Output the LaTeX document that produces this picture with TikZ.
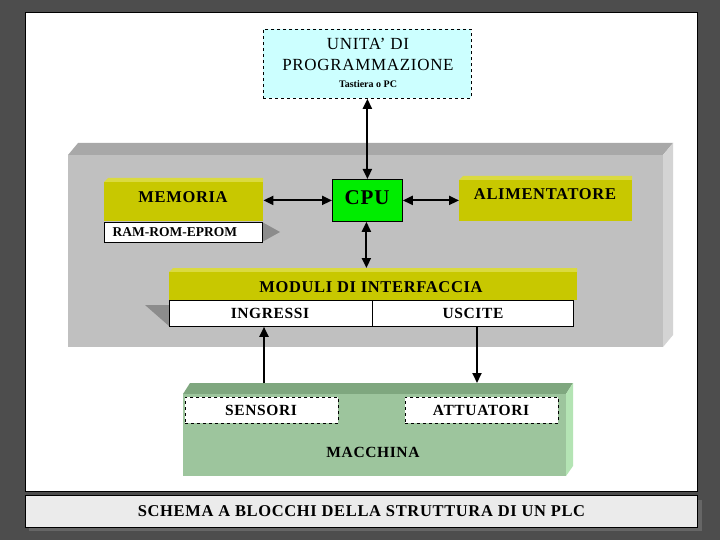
\documentclass[tikz,border=0pt]{standalone}
\usepackage{fontspec}
\setmainfont{Liberation Serif}
\newfontfamily\spaced[LetterSpace=4]{Liberation Serif}
\usetikzlibrary{arrows.meta}
\definecolor{bgd}{HTML}{4D4D4D}
\definecolor{plat}{HTML}{C0C0C0}
\definecolor{plattop}{HTML}{A8A8A8}
\definecolor{platside}{HTML}{D4D4D4}
\definecolor{olive}{HTML}{C8C800}
\definecolor{olivetop}{HTML}{DADA40}
\definecolor{mach}{HTML}{9DC59D}
\definecolor{machtop}{HTML}{7FA77F}
\definecolor{machside}{HTML}{B4E4B4}
\definecolor{cyanb}{HTML}{CCFFFF}
\begin{document}
\begin{tikzpicture}[x=1pt,y=-1pt,
  lbl/.style={font=\spaced\bfseries\fontsize{16.5}{17}\selectfont},
  lblm/.style={font=\spaced\bfseries\fontsize{15.5}{16}\selectfont},
  box/.style={draw=black,line width=0.8pt,inner sep=0pt,anchor=north west},
  arr/.style={-{Triangle[length=10pt,width=9pt]},line width=2pt},
  darr/.style={{Triangle[length=10pt,width=9pt]}-{Triangle[length=10pt,width=9pt]},line width=2pt}]
\useasboundingbox (0,0) rectangle (720,540);
\fill[bgd] (0,0) rectangle (720,540);
\fill[white,draw=black] (25,12) rectangle (697,491);
% caption
\fill[black!60] (29,500) rectangle (702,531);
\node[box,fill=black!8,minimum width=672pt,minimum height=32pt,line width=1pt] (cap) at (25,495) {};
\node[font=\spaced\bfseries\fontsize{16.5}{17}\selectfont] at (cap.center) {SCHEMA A BLOCCHI DELLA STRUTTURA DI UN PLC};
% top unit
\node[box,fill=cyanb,dashed,minimum width=208pt,minimum height=69pt] (unit) at (263,29) {};
\node[font=\spaced\fontsize{17}{18}\selectfont] at (368,44) {UNITA’ DI};
\node[font=\spaced\fontsize{17}{18}\selectfont] at (368,65) {PROGRAMMAZIONE};
\node[font=\bfseries\fontsize{10}{11}\selectfont] at (368,84) {Tastiera o PC};
% platform
\fill[plattop] (68,155) -- (78,143) -- (673,143) -- (663,155) -- cycle;
\fill[platside] (663,155) -- (673,143) -- (673,335) -- (663,347) -- cycle;
\fill[plat] (68,155) rectangle (663,347);
% memoria
\fill[black!45] (262,222) -- (262,242) -- (280,232) -- cycle;
\fill[olivetop] (104,182) -- (108,178) -- (263,178) -- (263,182) -- cycle;
\fill[olive] (104,182) rectangle (263,221);
\node (mem) at (104,178) [anchor=north west,minimum width=159pt,minimum height=43pt,inner sep=0pt] {};
\node[lbl] at (183,197) {MEMORIA};
\node[box,fill=white,minimum width=158pt,minimum height=20pt] (ram) at (104,222) {};
\node[font=\bfseries\fontsize{13.5}{14}\selectfont,anchor=west] at (109,232) {RAM-ROM-EPROM};
% cpu
\node[box,fill=green!93!black,minimum width=70pt,minimum height=42pt] (cpu) at (332,179) {};
\node[font=\spaced\bfseries\fontsize{21}{22}\selectfont] at (367,198) {CPU};
% alimentatore
\fill[olivetop] (459,180) -- (463,176) -- (632,176) -- (632,180) -- cycle;
\fill[olive] (459,180) rectangle (632,221);
\node (ali) at (459,176) [anchor=north west,minimum width=173pt,minimum height=45pt,inner sep=0pt] {};
\node[lbl] at (545,194) {ALIMENTATORE};
% moduli
\fill[black!45] (145,305) -- (169,305) -- (169,326) -- cycle;
\fill[olivetop] (169,272) -- (173,268) -- (577,268) -- (577,272) -- cycle;
\fill[olive] (169,272) rectangle (577,300);
\node (mod) at (169,268) [anchor=north west,minimum width=408pt,minimum height=32pt,inner sep=0pt] {};
\node[lbl] at (371,287) {MODULI DI INTERFACCIA};
\node[box,fill=white,minimum width=203pt,minimum height=26pt] (ing) at (169,300) {};
\node[box,fill=white,minimum width=201pt,minimum height=26pt] (usc) at (372,300) {};
\node[lblm] at (270,313) {INGRESSI};
\node[lblm] at (473,313) {USCITE};
% macchina
\fill[machtop] (183,394) -- (190,383) -- (573,383) -- (566,394) -- cycle;
\fill[machside] (566,394) -- (573,383) -- (573,466) -- (566,476) -- cycle;
\fill[mach] (183,394) rectangle (566,476);
\node[box,fill=white,dashed,minimum width=153pt,minimum height=26pt] (sen) at (185,397) {};
\node[box,fill=white,dashed,minimum width=153pt,minimum height=26pt] (att) at (405,397) {};
\node[lblm] at (261,410) {SENSORI};
\node[lblm] at (481,410) {ATTUATORI};
\node[lblm] at (373,452) {MACCHINA};
\coordinate (sentop) at (264,383);
\coordinate (atttop) at (477,383);
% arrows
\draw[darr] (unit.south) -- (cpu.north);
\draw[darr] (mem.east|-cpu.west) -- (cpu.west);
\draw[darr] (cpu.east) -- (ali.west|-cpu.east);
\draw[darr] ([xshift=-1pt]cpu.south) -- ([xshift=-1pt]cpu.south|-mod.north);
\draw[arr] (sentop) -- (sentop|-ing.south);
\draw[arr] (atttop|-usc.south) -- (atttop);
\end{tikzpicture}
\end{document}
